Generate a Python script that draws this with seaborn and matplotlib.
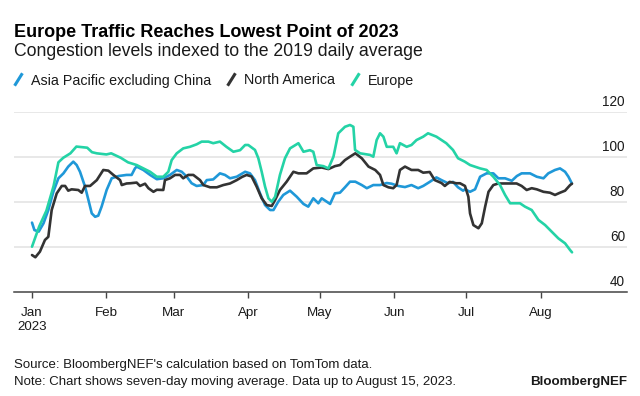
import pandas as pd
import matplotlib
matplotlib.use("Agg")
import matplotlib.pyplot as plt
from matplotlib.lines import Line2D
import seaborn as sns

# days since 2023-01-01 and congestion index
asia_days = [0, 1, 2.8, 4.8, 6.8, 8.9, 11, 13.1, 15.1, 17.2, 18.6, 20, 22.1, 23.5, 24.9, 26.3, 27.6, 29,
             31.1, 33.2, 36, 39.4, 41.5, 42.9, 43.6, 46.4, 49.2, 52, 54.7, 57.5, 60.3, 62.4, 64.5, 66.5,
             68.6, 71.4, 72.8, 75.5, 78.3, 80.4, 82.5, 85.3, 88.8, 90.8, 92.9, 95, 97.1, 99.2, 100.6,
             102.6, 104.7, 107.5, 110.3, 113.1, 115.1, 117.2, 119.3, 120.7, 122.8, 124.2, 126.2, 128.3,
             130.4, 132.5, 134.7, 137.4, 139.5, 142.2, 145, 147.8, 149.8, 152.6, 155.4, 158.1, 160.9,
             163, 165.7, 168.5, 170.6, 173.3, 175.4, 177.5, 179.6, 180.4, 182.5, 184.6, 186.7, 189.4,
             192.2, 194.3, 197.1, 199.9, 202, 204, 207.5, 210.3, 213.1, 215.1, 217.9, 220, 222.1, 223.5,
             224.9]
asia_vals = [70.7, 67.4, 66.7, 70.4, 76.3, 84.4, 90.4, 92.6, 95.6, 97.8, 96.3, 93.3, 86.7, 80.8, 74.8,
             73.3, 73.8, 77.8, 85.2, 90.4, 91.4, 91.9, 91.9, 94.8, 95.6, 94.1, 91.9, 90, 90.4, 91.9, 94.1,
             93.3, 91.1, 88.2, 87, 87.4, 89.6, 89.9, 92.6, 91.9, 90.4, 91.1, 93.3, 92.6, 89.6, 83.7, 78.5,
             76.3, 76.3, 80, 83, 84.9, 82.2, 79, 77.8, 81.5, 79.3, 81.5, 80, 79, 83.7, 84, 86.4, 88.9,
             88.9, 87.4, 86, 87.4, 87.4, 88.3, 88, 87, 86.5, 87.4, 86, 87, 88.8, 90.8, 89.6, 88.2, 88.8,
             86.4, 84.9, 85.5, 84.4, 85.5, 91.1, 92.6, 92.6, 90.4, 90.4, 89.3, 91.4, 92.6, 92.6, 91.1,
             90.4, 92.6, 94.1, 94.8, 93.3, 91.1, 88.2]

na_days = [0, 1.4, 3.3, 5.4, 6.8, 8.2, 10.3, 12.4, 13.8, 15.1, 16.5, 19.3, 20.7, 22.1, 24.2, 27, 29.7,
           31.8, 33.9, 36.7, 37.4, 39.4, 41, 43.6, 45, 47.1, 48.5, 50.6, 52, 54.7, 55.4, 57.5, 59.6,
           61.7, 63, 65.1, 67.2, 70, 71.4, 74.2, 77, 79.7, 82.5, 85.3, 87.5, 89.4, 91.5, 93.6, 95.7,
           97.8, 99.9, 101.3, 103.3, 106.1, 108.9, 111, 114.4, 117.2, 120.7, 123.5, 126.2, 128.3,
           130.4, 132.5, 134.7, 137.4, 140.2, 143, 145, 146.4, 148.5, 150.5, 151.9, 153.3, 155.4,
           158.1, 160.9, 163, 165.7, 167.8, 170.6, 172, 174, 176.8, 178.3, 180.4, 181.8, 182.5, 183.9,
           186, 187.4, 188.8, 190.2, 192.2, 194.3, 201.9, 204, 206.1, 208.2, 210.3, 213.1, 215.8,
           217.9, 220, 222.1, 224.2, 225]
na_vals = [56.3, 55.3, 57.8, 63, 64.4, 76.3, 83.7, 87, 87, 84.9, 85.5, 85.2, 84, 87, 87, 89.6, 94.1,
           93.8, 91.9, 89.6, 87.4, 88.1, 88.2, 88.5, 87, 88, 86, 84.4, 85.3, 85.2, 89.6, 90.4, 91.9,
           91.9, 90.4, 91.9, 91.9, 89.6, 87.4, 86.4, 86.4, 87.4, 88.1, 89.6, 91, 91.9, 91.2, 86.7,
           81.5, 78.5, 78.1, 80.8, 85.2, 88.9, 93.3, 92.6, 92.6, 94.8, 95.2, 94.5, 95.8, 96.3, 98.5,
           100, 101.5, 99.3, 95.6, 94.1, 91.9, 87.4, 86.4, 86, 87.4, 94.1, 95.6, 94.1, 94.1, 92.9,
           93.2, 89.6, 88.3, 87, 88.8, 88.2, 88.2, 87, 82.2, 74.8, 69.6, 68.2, 70.4, 77.8, 84.4, 87.4,
           88.1, 88.1, 87, 85.2, 86, 85.5, 84.4, 84, 83, 84, 84.9, 87.4, 88]

eu_days = [0, 3, 6, 9, 11, 13, 16, 18.5, 23, 25, 27, 31, 33, 37, 40, 43.6, 46.4, 49.2, 52, 54.7, 56.8,
           58.2, 60.3, 63, 65.8, 68.6, 70.7, 73.5, 75.5, 78.3, 81, 83.9, 86.7, 88.8, 90.1, 92.9, 94.3,
           95.7, 97.1, 98.5, 99.9, 101.3, 103.3, 105.4, 107.5, 111, 113.1, 115.8, 117.2, 118.6, 121.4,
           123.5, 125.6, 127.6, 130.4, 132.5, 133.9, 134.6, 136.7, 140.8, 142.2, 143.6, 145, 146.4,
           147.8, 150.5, 151.9, 153.3, 156.1, 158.1, 160.2, 163, 165, 168.5, 172.6, 175.4, 177.5,
           180.3, 182.5, 186.7, 189.4, 192.2, 195, 197.1, 199.2, 203.3, 205.4, 208.2, 211, 213.8,
           216.5, 219.3, 222.1, 224.2, 225]
eu_vals = [60, 69, 76, 87, 97.5, 99.5, 101.5, 104.5, 104, 102, 101.5, 101, 101.5, 99.5, 97.5, 96.3,
           94.8, 93.3, 91.1, 91.1, 93.3, 98.5, 101.5, 103.7, 104.4, 105.5, 106.7, 106.7, 106, 106.7,
           104.4, 102.2, 102.9, 105.2, 105.2, 103, 99.3, 93.3, 86.7, 81.5, 80, 82.2, 91.9, 99.3, 103.7,
           106, 102.2, 102.9, 102.2, 96.3, 95.8, 94.8, 100, 110.4, 113.3, 114.1, 113.3, 103, 101.5,
           100.8, 100, 107.4, 110.4, 108.9, 104.4, 104.4, 101.5, 106, 104.4, 105.2, 107.4, 108.9,
           110.4, 108.9, 106, 103, 99.3, 97.8, 96.3, 94.8, 94.1, 91.1, 87.4, 83, 79.3, 79.3, 77.8,
           76.3, 71.9, 69.6, 66.7, 63.7, 61.5, 58.5, 57.5]

series_names = ["Asia Pacific excluding China", "North America", "Europe"]
colors = ["#1f98d8", "#333333", "#24d3a6"]

month_ticks = ["2023-01-01", "2023-02-01", "2023-03-01", "2023-04-01",
               "2023-05-01", "2023-06-01", "2023-07-01", "2023-08-01"]
month_labels = ["Jan\n2023", "Feb", "Mar", "Apr", "May", "Jun", "Jul", "Aug"]
y_ticks = [40, 60, 80, 100, 120]

start = pd.Timestamp("2023-01-01")
frames = []
for name, d, v in zip(series_names, [asia_days, na_days, eu_days], [asia_vals, na_vals, eu_vals]):
    frames.append(pd.DataFrame({"date": start + pd.to_timedelta(d, unit="D"),
                                "value": v, "region": name}))
df = pd.concat(frames, ignore_index=True)

sns.set_theme(style="white")
plt.rcParams["font.family"] = ["Liberation Sans", "DejaVu Sans"]

fig = plt.figure(figsize=(6.4, 3.96), dpi=100)
ax = fig.add_axes([14 / 640, 1 - 291.7 / 396, (627 - 14) / 640, (291.7 - 111.7) / 396])

# gridlines
for y in y_ticks[1:]:
    ax.axhline(y, color="#e2e2e2", lw=1.1, zorder=0)

sns.lineplot(data=df, x="date", y="value", hue="region", hue_order=series_names,
             palette=colors, estimator=None, linewidth=1.9, legend=False, ax=ax)

ax.set_xlim(start - pd.Timedelta(days=7.5), start + pd.Timedelta(days=247.9))
ax.set_ylim(40, 120)
ax.set_xlabel("")
ax.set_ylabel("")

for s in ["top", "left", "right"]:
    ax.spines[s].set_visible(False)
ax.spines["bottom"].set_color("#444444")
ax.spines["bottom"].set_linewidth(1.1)

ax.set_xticks(pd.to_datetime(month_ticks))
ax.set_xticklabels(month_labels)
ax.tick_params(axis="x", bottom=True, length=4, width=1, color="#444444", pad=7,
               labelsize=9.6, labelcolor="#1a1a1a")
ax.set_yticks([])

# y labels sit above their gridlines on the right
for y in y_ticks:
    ax.annotate(str(y), xy=(1, y), xycoords=ax.get_yaxis_transform(),
                xytext=(-1.5, 4), textcoords="offset points", ha="right", va="baseline",
                fontsize=9.8, color="#1a1a1a", annotation_clip=False)

# titles
fig.text(14 / 640, 1 - 37 / 396, "Europe Traffic Reaches Lowest Point of 2023",
         fontsize=13, fontweight="bold", color="#000000", va="baseline")
fig.text(14 / 640, 1 - 56.5 / 396, "Congestion levels indexed to the 2019 daily average",
         fontsize=12.7, color="#1a1a1a", va="baseline")

handles = [Line2D([], [], color=c, marker=[(-1, -1.6), (1, 1.6)], markersize=9,
                  markeredgewidth=2.2, linestyle="none") for c in colors]
fig.legend(handles, series_names, loc="center left", bbox_to_anchor=(12 / 640, 1 - 80.5 / 396),
           ncol=3, frameon=False, fontsize=10.3, handlelength=0.8, handletextpad=0.5,
           columnspacing=1.0, borderpad=0, borderaxespad=0, labelcolor="#1a1a1a")

# footer
fig.text(14 / 640, 1 - 368 / 396, "Source: BloombergNEF's calculation based on TomTom data.",
         fontsize=9.55, color="#1a1a1a", va="baseline")
fig.text(14 / 640, 1 - 385 / 396,
         "Note: Chart shows seven-day moving average. Data up to August 15, 2023.",
         fontsize=9.55, color="#1a1a1a", va="baseline")
fig.text(627 / 640, 1 - 385 / 396, "BloombergNEF", fontsize=9.6, fontweight="bold",
         color="#1a1a1a", va="baseline", ha="right")

fig.savefig("out.png", dpi=100)
